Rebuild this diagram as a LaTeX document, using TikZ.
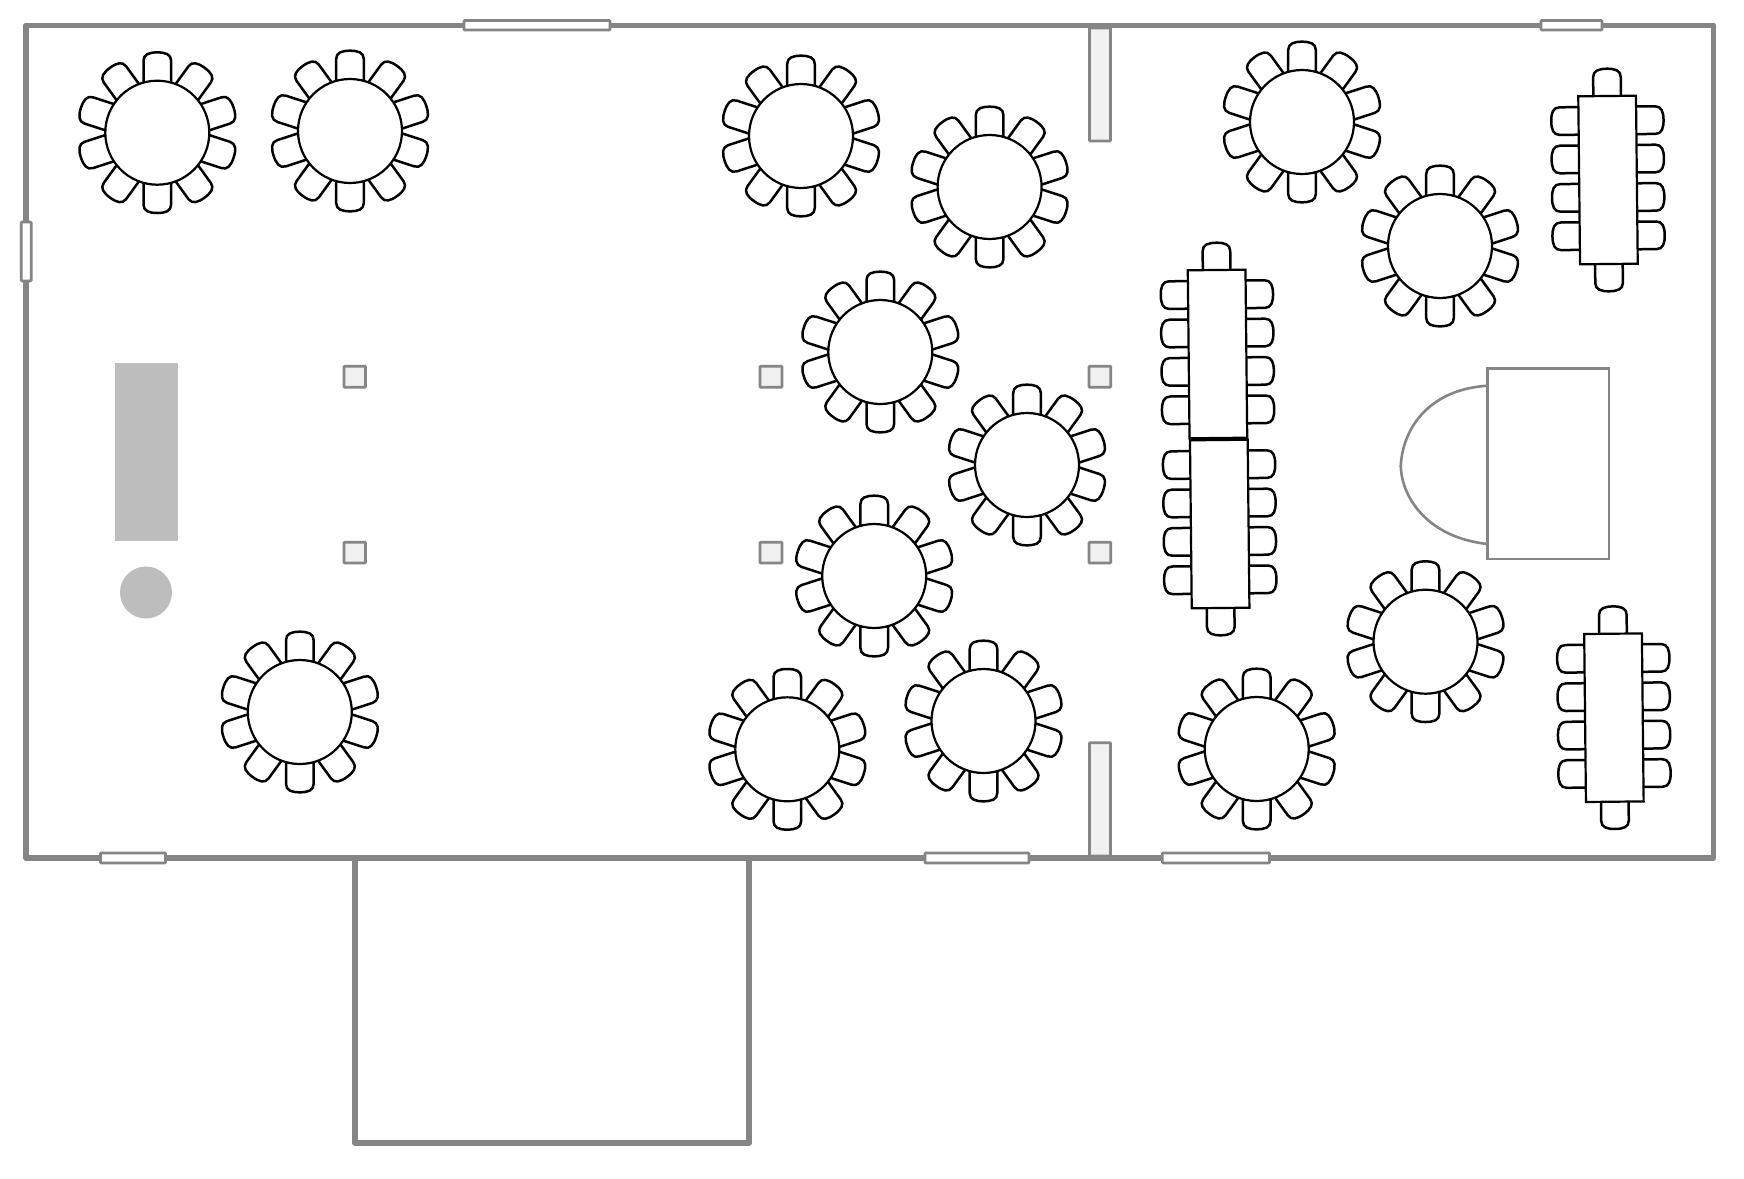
\documentclass[tikz,border=0pt]{standalone}
\definecolor{wallc}{HTML}{858585}
\definecolor{pillarc}{HTML}{F0F0F0}
\definecolor{blockc}{HTML}{BDBDBD}
\tikzset{
  wall/.style={draw=wallc,line width=5.5pt,line join=round,line cap=round},
  windowbox/.style={draw=wallc,line width=2.6pt,fill=white,rounded corners=0.8pt},
  pillar/.style={draw=wallc,line width=2.8pt,fill=pillarc,rounded corners=0.8pt},
  blockfill/.style={fill=blockc,draw=none},
  chairshape/.style={draw=black,line width=2.5pt,fill=white,line join=round},
  tabletop/.style={draw=black,line width=2.2pt,fill=white},
  podium/.style={draw=wallc,line width=2.6pt},
}
\newcommand{\seat}{%
  \draw[chairshape] (-13.8,0) -- (-13.8,-22) .. controls (-13.8,-28.5) and (-8,-30.3) .. (0,-30.3)
    .. controls (8,-30.3) and (13.8,-28.5) .. (13.8,-22) -- (13.8,0) -- cycle;}
\newcommand{\roundtable}[2]{%
  \begin{scope}[shift={(#1,#2)}]
    \foreach \a in {0,36,...,324}{%
      \begin{scope}[rotate=\a,shift={(0,-50)}]\seat\end{scope}}
    \draw[tabletop] (0,0) circle[radius=52];
  \end{scope}}
% centre x, centre y, top seat (1/0), bottom seat (1/0)
\newcommand{\longtable}[4]{%
  \begin{scope}[shift={(#1,#2)},rotate=0.6]
    \foreach \o in {-59.4,-21,17.4,55.8}{%
      \begin{scope}[shift={(-28.85,\o)},rotate=90,shift={(0,3)}]\seat\end{scope}
      \begin{scope}[shift={(28.85,\o)},rotate=-90,shift={(0,3)}]\seat\end{scope}}
    \ifnum#3=1 \begin{scope}[shift={(0,-84)},shift={(0,3)}]\seat\end{scope}\fi
    \ifnum#4=1 \begin{scope}[shift={(0,84)},rotate=180,shift={(0,3)}]\seat\end{scope}\fi
    \draw[tabletop] (-28.85,-84) rectangle (28.85,84);
  \end{scope}}
\begin{document}
\begin{tikzpicture}[x=1pt,y=-1pt]
\useasboundingbox[fill=white] (0,0) rectangle (1744,1178);
% walls
\draw[wall] (26,25.3) rectangle (1713.5,858);
\draw[wall] (354.8,858) -- (354.8,1143) -- (749,1143) -- (749,858);
% windows
\draw[windowbox] (464,20.5) rectangle (610,30);
\draw[windowbox] (1541,20.5) rectangle (1602,30);
\draw[windowbox] (21.2,222) rectangle (31.2,281);
\draw[windowbox] (100.5,853) rectangle (165.5,863);
\draw[windowbox] (925,853) rectangle (1029,863);
\draw[windowbox] (1162.3,853) rectangle (1269.5,863);
% partition stubs and pillars
\draw[pillar] (1089.5,28) rectangle (1110.5,141);
\draw[pillar] (1089.5,742.8) rectangle (1110.5,856);
\draw[pillar] (344,366.3) rectangle (365.5,387.2);
\draw[pillar] (344,542.2) rectangle (365.5,563);
\draw[pillar] (760,366.3) rectangle (782,387.2);
\draw[pillar] (760,542.2) rectangle (782,563);
\draw[pillar] (1089,366.3) rectangle (1110.7,387.2);
\draw[pillar] (1089,542.2) rectangle (1110.7,563);
% grey block and circle
\fill[blockfill] (115,363) rectangle (177.7,540.7);
\fill[blockfill] (146,592.5) circle[radius=26];
% podium
\draw[podium] (1487.7,368.7) rectangle (1609,559);
\draw[podium] (1487.7,385.7) .. controls (1432,389) and (1403,425) .. (1400.7,466)
  .. controls (1402,500) and (1430,538) .. (1487.7,544);
% round tables
\roundtable{157.3}{132.7}
\roundtable{350}{131}
\roundtable{801}{136}
\roundtable{989.6}{187}
\roundtable{1302}{122}
\roundtable{1440}{246}
\roundtable{880.3}{352}
\roundtable{1027}{465}
\roundtable{874.2}{576}
\roundtable{787.3}{749.3}
\roundtable{983.5}{721}
\roundtable{1256.7}{749}
\roundtable{1425.5}{641.7}
\roundtable{299.8}{712}
% long tables
\longtable{1217.5}{354}{1}{0}
\longtable{1219.7}{524}{0}{1}
\longtable{1608}{180}{1}{1}
\longtable{1613.9}{717.7}{1}{1}
\end{tikzpicture}
\end{document}
